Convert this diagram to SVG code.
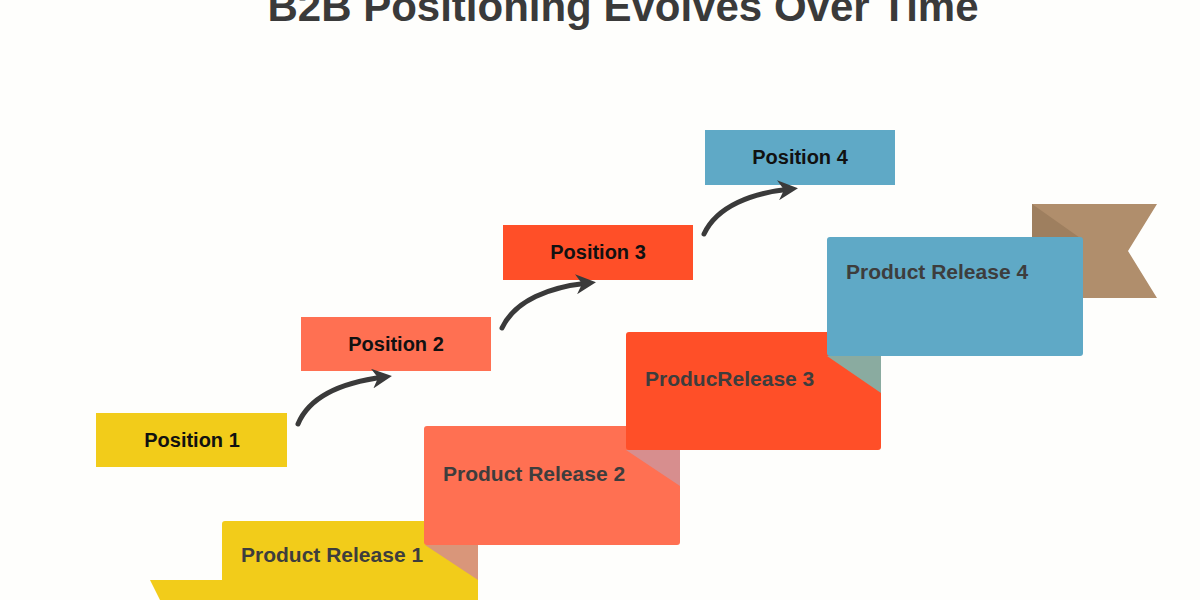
<svg xmlns="http://www.w3.org/2000/svg" width="1200" height="600" viewBox="0 0 1200 600">
<style>
.pos{font-family:"Liberation Sans",Arial,sans-serif;font-weight:bold;font-size:20px;fill:#111;text-anchor:middle}
.rel{font-family:"Liberation Sans",Arial,sans-serif;font-weight:bold;font-size:21px;fill:#3d3d3d}
.arr{fill:none;stroke:#3a3a3a;stroke-width:5;stroke-linecap:round}
</style>
<defs>
<marker id="ah" viewBox="0 0 10 10" refX="6" refY="5" markerWidth="4" markerHeight="4" orient="auto">
<path d="M0,0 L10,5 L0,10 L3,5 Z" fill="#3a3a3a"/>
</marker>
</defs>
<rect width="1200" height="600" fill="#fefefc"/>
<text x="623" y="21" font-family="Liberation Sans,Arial,sans-serif" font-weight="bold" font-size="42" fill="#3a3a3a" text-anchor="middle">B2B Positioning Evolves Over Time</text>
<g id="release1">
<polygon points="150,580 222,580 222,600 160,600" fill="#f2cc1a"/>
<rect x="222" y="521" width="256" height="95" rx="3" fill="#f2cc1a"/>
<polygon points="425,545 478,545 478,580" fill="#d9967a"/>
<text class="rel" x="241" y="562">Product Release 1</text>
</g>
<g id="release2">
<rect x="424" y="426" width="256" height="119" rx="3" fill="#ff7052"/>
<polygon points="626,450 680,450 680,486" fill="#d78e8e"/>
<text class="rel" x="443" y="481">Product Release 2</text>
</g>
<g id="release4tail">
<polygon points="1032,204 1157,204 1128,251 1157,298 1083,298 1032,298" fill="#b08e6c"/>
<polygon points="1032,204 1083,240 1032,240" fill="#9e7f5f"/>
</g>
<g id="release3">
<rect x="626" y="332" width="255" height="118" rx="3" fill="#ff4f28"/>
<polygon points="827,356 881,356 881,393" fill="#8aaba0"/>
<text class="rel" x="645" y="386">ProducRelease 3</text>
</g>
<g id="release4">
<rect x="827" y="237" width="256" height="119" rx="3" fill="#5fa9c6"/>
<text class="rel" x="846" y="279">Product Release 4</text>
</g>
<g id="position1"><rect x="96" y="413" width="191" height="54" fill="#f2cc1a"/><text class="pos" x="192" y="447">Position 1</text></g>
<g id="position2"><rect x="301" y="317" width="190" height="54" fill="#ff7052"/><text class="pos" x="396" y="351">Position 2</text></g>
<g id="position3"><rect x="503" y="225" width="190" height="55" fill="#ff4f28"/><text class="pos" x="598" y="259">Position 3</text></g>
<g id="position4"><rect x="705" y="130" width="190" height="55" fill="#5fa9c6"/><text class="pos" x="800" y="164">Position 4</text></g>
<g id="connectors">
<path class="arr" d="M298,424 C310,395 345,382 384,377" marker-end="url(#ah)"/>
<path class="arr" d="M502,328 C515,300 550,287 588,283" marker-end="url(#ah)"/>
<path class="arr" d="M704,234 C717,206 752,193 790,189" marker-end="url(#ah)"/>
</g>
</svg>
